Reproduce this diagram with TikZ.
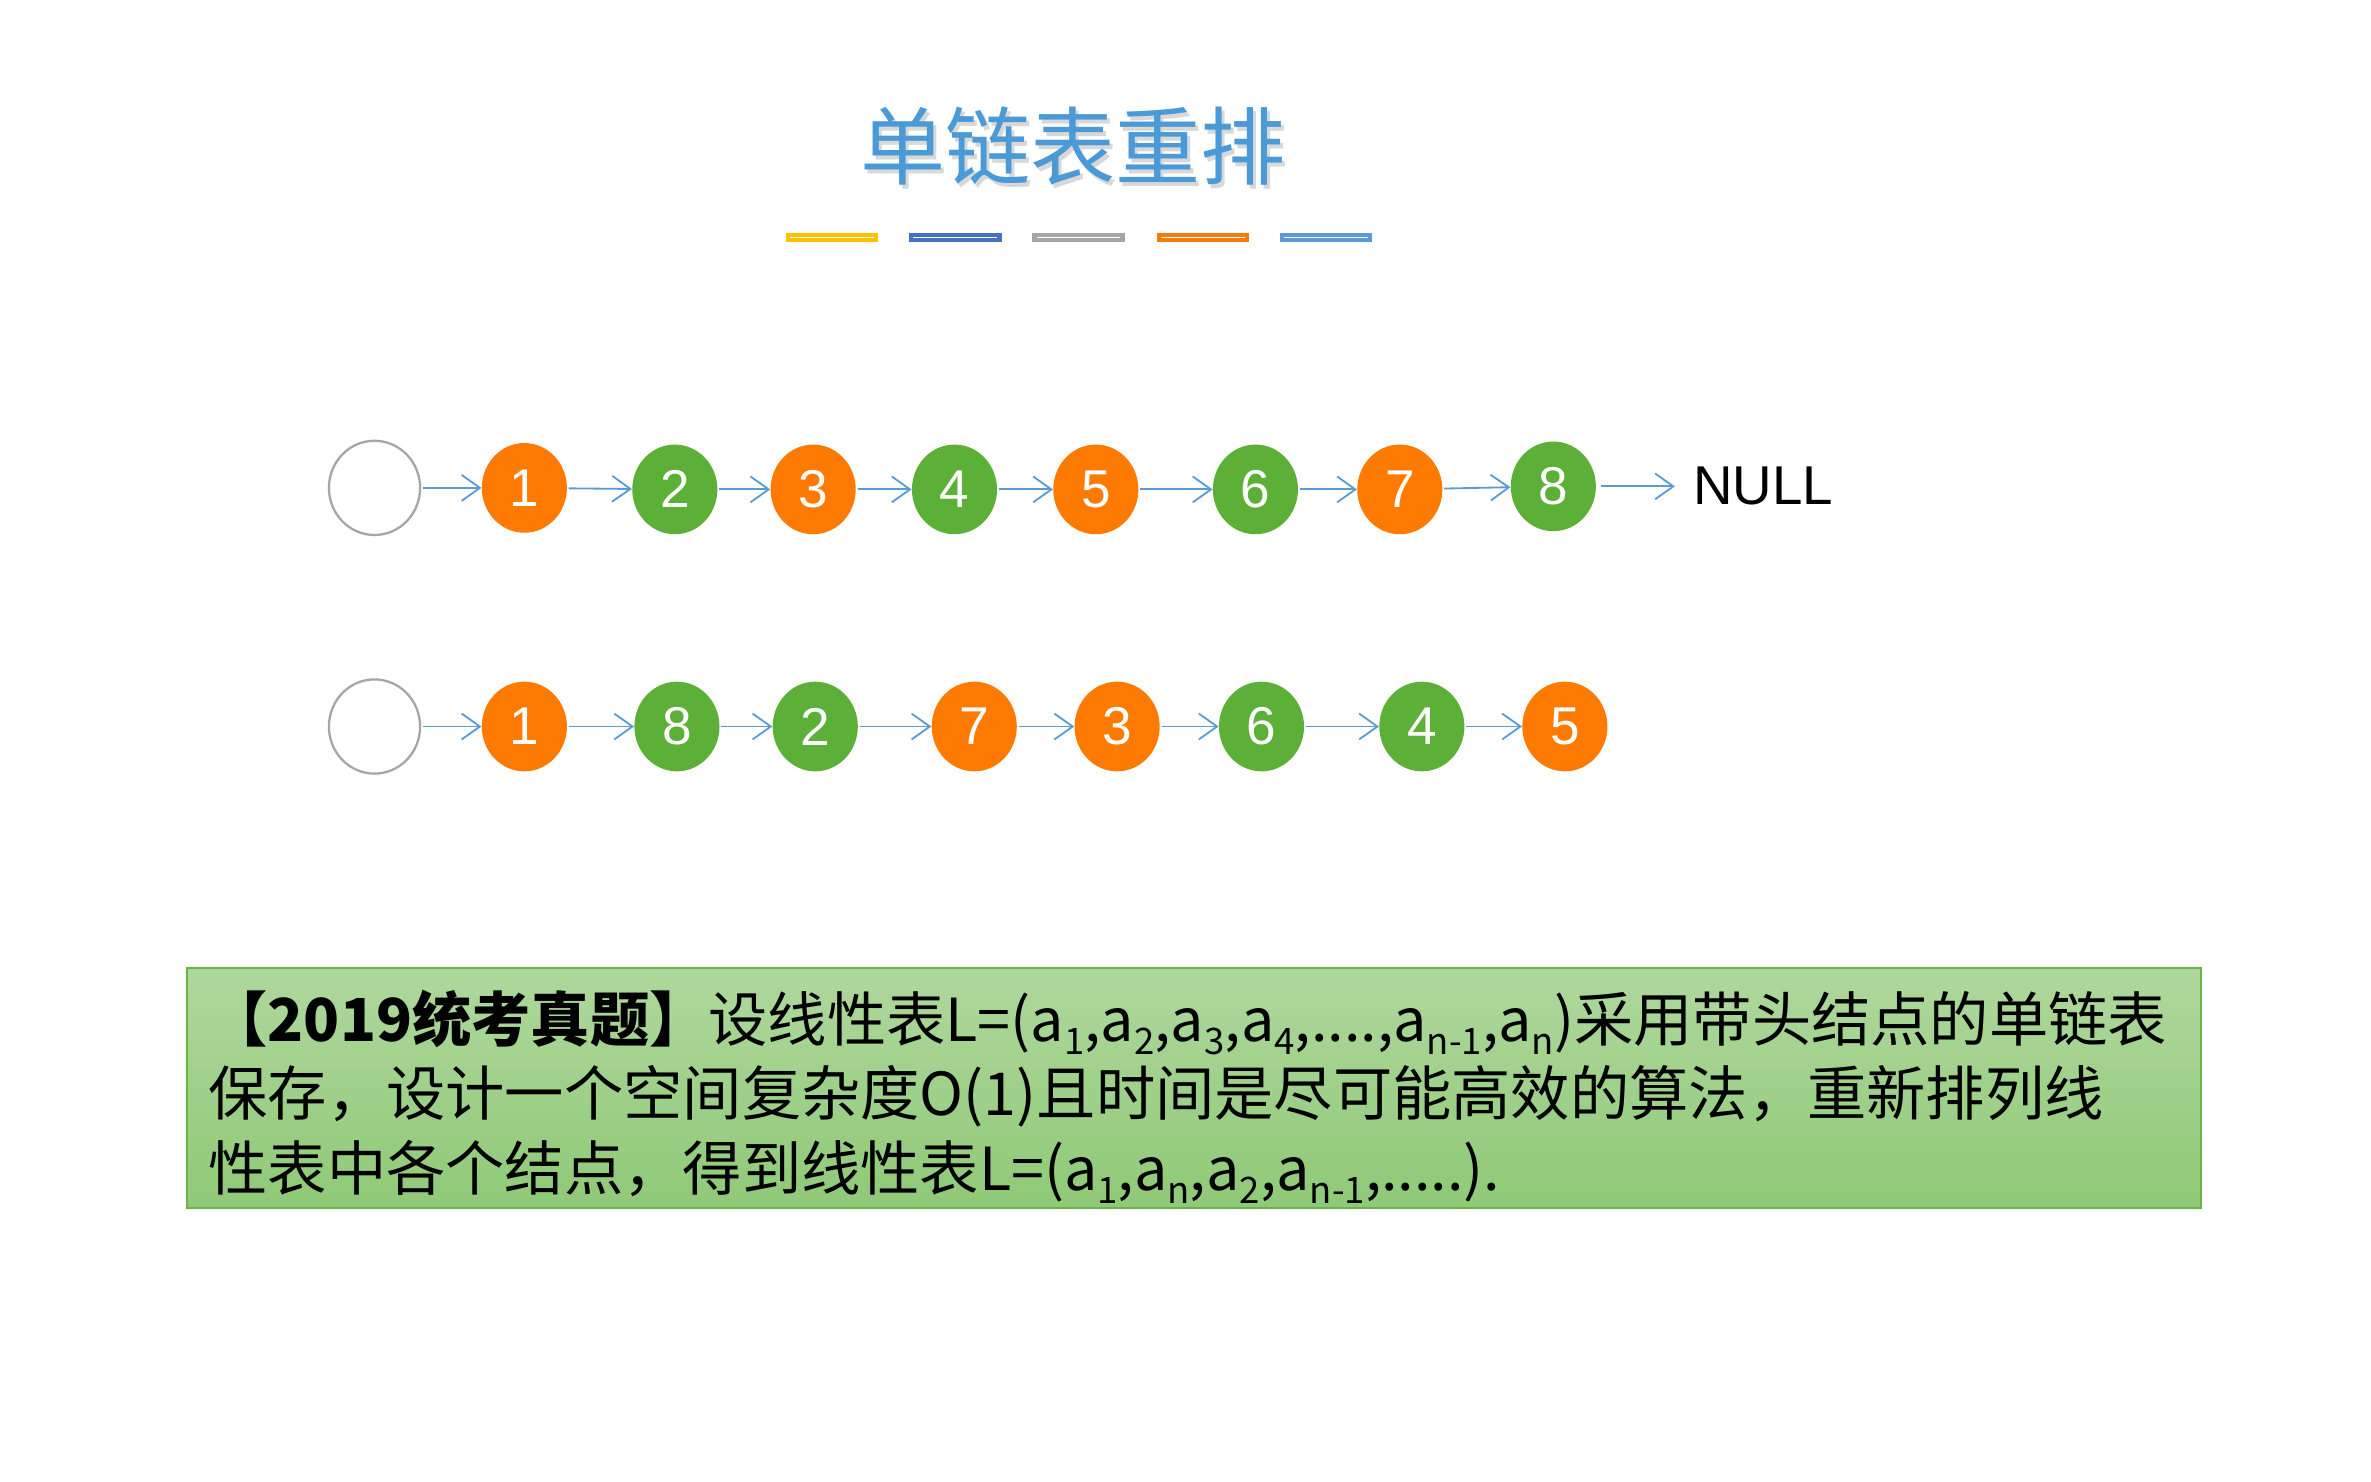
\documentclass[tikz,border=0pt]{standalone}
\usepackage{fontspec}
\setmainfont{Liberation Sans}
\newfontfamily\cjk{Noto Sans CJK SC}
\usetikzlibrary{arrows.meta,shapes.geometric}
\definecolor{ora}{HTML}{FF7A00}
\definecolor{grn}{HTML}{5DB037}
\definecolor{arr}{HTML}{5B9BD5}
\definecolor{hdc}{HTML}{A6A6A6}
\definecolor{ttl}{HTML}{4A9AD8}
\definecolor{boxtop}{HTML}{AFD89D}
\definecolor{boxbot}{HTML}{8FC977}
\definecolor{boxline}{HTML}{6AB344}
\definecolor{barA}{HTML}{FFC000}
\definecolor{barB}{HTML}{4472C4}
\definecolor{barC}{HTML}{A5A5A5}
\definecolor{barD}{HTML}{F47B0C}
\definecolor{barE}{HTML}{5B9BD5}
\newcommand\sbs[1]{\raisebox{-0.22em}{\fontsize{24}{24}\selectfont #1}}
\tikzset{
  nodebase/.style={ellipse, minimum width=56pt, minimum height=59pt, inner sep=0pt,
    text=white, font=\fontsize{35}{35}\selectfont},
  onode/.style={nodebase, fill=ora},
  gnode/.style={nodebase, fill=grn},
  headnode/.style={ellipse, minimum width=60pt, minimum height=62pt, inner sep=0pt,
    draw=hdc, line width=1.5pt},
  lnk/.style={-{Straight Barb[length=12pt,width=17pt]}, draw=arr, line width=1.2pt, shorten <=1pt},
  bodytext/.style={anchor=base west, inner sep=0pt, font=\cjk\fontsize{39}{48}\selectfont},
  deco/.style={line width=5.5pt},
  decoin/.style={white, line width=0.7pt}
}
\begin{document}
\begin{tikzpicture}[x=1pt,y=-1pt]
\useasboundingbox (0,0) rectangle (1560,975);
\fill[white] (0,0) rectangle (1560,975);
% title
\node[text=black!25, opacity=0.6, font=\cjk\fontsize{56}{56}\selectfont, inner sep=0pt] (tshadow) at (708,99) {单链表重排};
\node[text=ttl, font=\cjk\fontsize{56}{56}\selectfont, inner sep=0pt] (title) at (706,96) {单链表重排};
% decorative bars
\foreach \c/\xs in {barA/517, barB/598, barC/679, barD/761, barE/842}{
  \draw[deco, draw=\c] (\xs,156.3) -- ++(61,0);
  \draw[decoin] (\xs+3,156.3) -- ++(55,0);
}
% row 1
\node[headnode] (h1) at (246.4,321) {};
\node[onode] (a1) at (345,321) {1};
\node[gnode] (a2) at (444,322) {2};
\node[onode] (a3) at (535,322) {3};
\node[gnode] (a4) at (628,322) {4};
\node[onode] (a5) at (721,322) {5};
\node[gnode] (a6) at (826,322) {6};
\node[onode] (a7) at (921,322) {7};
\node[gnode] (a8) at (1022,320) {8};
\node[anchor=west, inner sep=0pt, font=\fontsize{36}{36}\selectfont] (null) at (1114,320) {NULL};
\draw[lnk] (h1) -- (a1);
\draw[lnk] (a1) -- (a2);
\draw[lnk] (a2) -- (a3);
\draw[lnk] (a3) -- (a4);
\draw[lnk] (a4) -- (a5);
\draw[lnk] (a5) -- (a6);
\draw[lnk] (a6) -- (a7);
\draw[lnk] (a7) -- (a8);
\draw[lnk, shorten <=3pt, shorten >=12pt] (a8) -- (null);
% row 2
\node[headnode] (h2) at (246.4,478) {};
\node[onode] (b1) at (345,478) {1};
\node[gnode] (b2) at (445.4,478) {8};
\node[gnode] (b3) at (536.4,478) {2};
\node[onode] (b4) at (641,478) {7};
\node[onode] (b5) at (735,478) {3};
\node[gnode] (b6) at (830,478) {6};
\node[gnode] (b7) at (935.5,478) {4};
\node[onode] (b8) at (1029.6,478) {5};
\draw[lnk] (h2) -- (b1);
\draw[lnk] (b1) -- (b2);
\draw[lnk] (b2) -- (b3);
\draw[lnk] (b3) -- (b4);
\draw[lnk] (b4) -- (b5);
\draw[lnk] (b5) -- (b6);
\draw[lnk] (b6) -- (b7);
\draw[lnk] (b7) -- (b8);
% text box
\shade[top color=boxtop, bottom color=boxbot] (123,637) rectangle (1448,795);
\draw[boxline, line width=1.2pt] (123,637) rectangle (1448,795);
\node[bodytext] (l1) at (137,685) {{\bfseries 【2019统考真题】}设线性表L=(a\sbs{1},a\sbs{2},a\sbs{3},a\sbs{4},....,a\sbs{n-1},a\sbs{n})采用带头结点的单链表};
\node[bodytext] (l2) at (137,734) {保存，设计一个空间复杂度O(1)且时间是尽可能高效的算法，重新排列线};
\node[bodytext] (l3) at (137,783) {性表中各个结点，得到线性表L=(a\sbs{1},a\sbs{n},a\sbs{2},a\sbs{n-1},.....).};
\end{tikzpicture}
\end{document}
